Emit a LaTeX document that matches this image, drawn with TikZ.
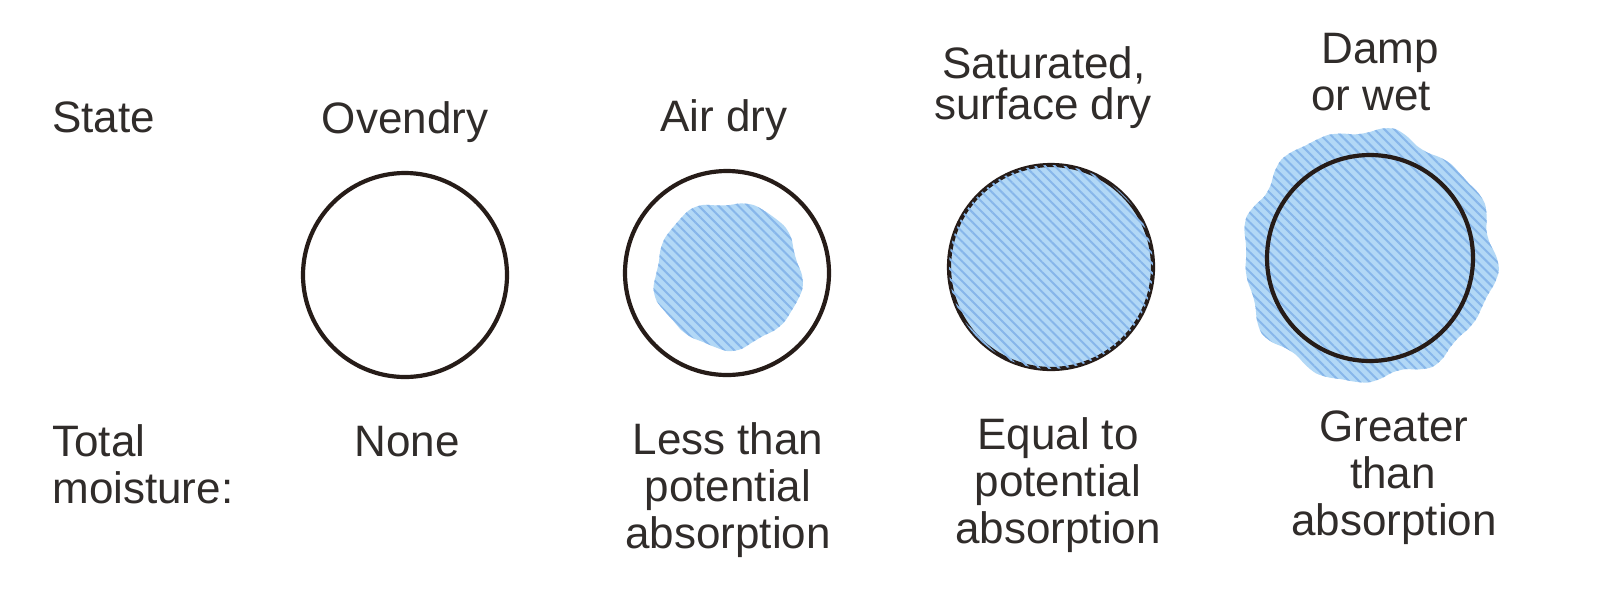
\documentclass[tikz,border=0pt]{standalone}
\usepackage{fontspec}
\setmainfont{Liberation Sans}
\usetikzlibrary{patterns.meta}
\definecolor{ink}{RGB}{48,44,42}
\definecolor{rim}{RGB}{38,28,24}
\definecolor{water}{RGB}{178,216,246}
\definecolor{hatch}{RGB}{135,182,234}
\tikzset{
  lbl/.style={font=\fontsize{22}{24}\selectfont, text=ink, inner sep=0pt, anchor=base},
  lblL/.style={lbl, anchor=base west},
  rimc/.style={draw=rim, line width=2.1pt},
  wet/.style={fill=water, postaction={pattern={Lines[angle=-45,distance=3.5pt,line width=1pt]}, pattern color=hatch}},
}
\begin{document}
\begin{tikzpicture}[x=0.5pt,y=-0.5pt]
\useasboundingbox (0,0) rectangle (1600,606);
\fill[white] (0,0) rectangle (1600,606);

% header labels
\node[lblL] (state) at (52,132) {State};
\node[lbl] (h1) at (405,133) {Ovendry};
\node[lbl] (h2) at (724,131) {Air dry};
\node[lbl] (h3a) at (1044,78) {Saturated,};
\node[lbl] (h3b) at (1043,119) {surface dry};
\node[lbl] (h4a) at (1380,63) {Damp};
\node[lbl] (h4b) at (1371,110) {or wet};

% circles
\node[circle, minimum size=102pt, inner sep=0pt, rimc] (c1) at (405,275) {};

\begin{scope}[shift={(728,275)}]
\path[wet] plot[smooth cycle, samples=36, domain=0:350]
  (\x:{73+2*sin(5*\x)+1.5*sin(9*\x+40)});
\end{scope}
\node[circle, minimum size=102pt, inner sep=0pt, rimc] (c2) at (727,273) {};

\node[circle, minimum size=102pt, inner sep=0pt, rimc, wet] (c3) at (1051,267) {};

\begin{scope}[shift={(1368,256)}]
\path[wet] plot[smooth cycle, samples=60, domain=0:354]
  (\x:{125+3*sin(8*\x)+2.5*sin(13*\x+30)+2*sin(3*\x+70)});
\end{scope}
\node[circle, minimum size=103pt, inner sep=0pt, rimc] (c4) at (1370,258) {};

% bottom labels
\node[lblL] (t1) at (52,456) {Total};
\node[lblL] (t2) at (52,503) {moisture:};
\node[lbl] (n1) at (407,456) {None};
\node[lbl] (a1) at (728,454) {Less than};
\node[lbl] (a2) at (728,501) {potential};
\node[lbl] (a3) at (728,548) {absorption};
\node[lbl] (s1) at (1058,449) {Equal to};
\node[lbl] (s2) at (1058,496) {potential};
\node[lbl] (s3) at (1058,543) {absorption};
\node[lbl] (d1) at (1394,441) {Greater};
\node[lbl] (d2) at (1393,488) {than};
\node[lbl] (d3) at (1394,535) {absorption};
\end{tikzpicture}
\end{document}
